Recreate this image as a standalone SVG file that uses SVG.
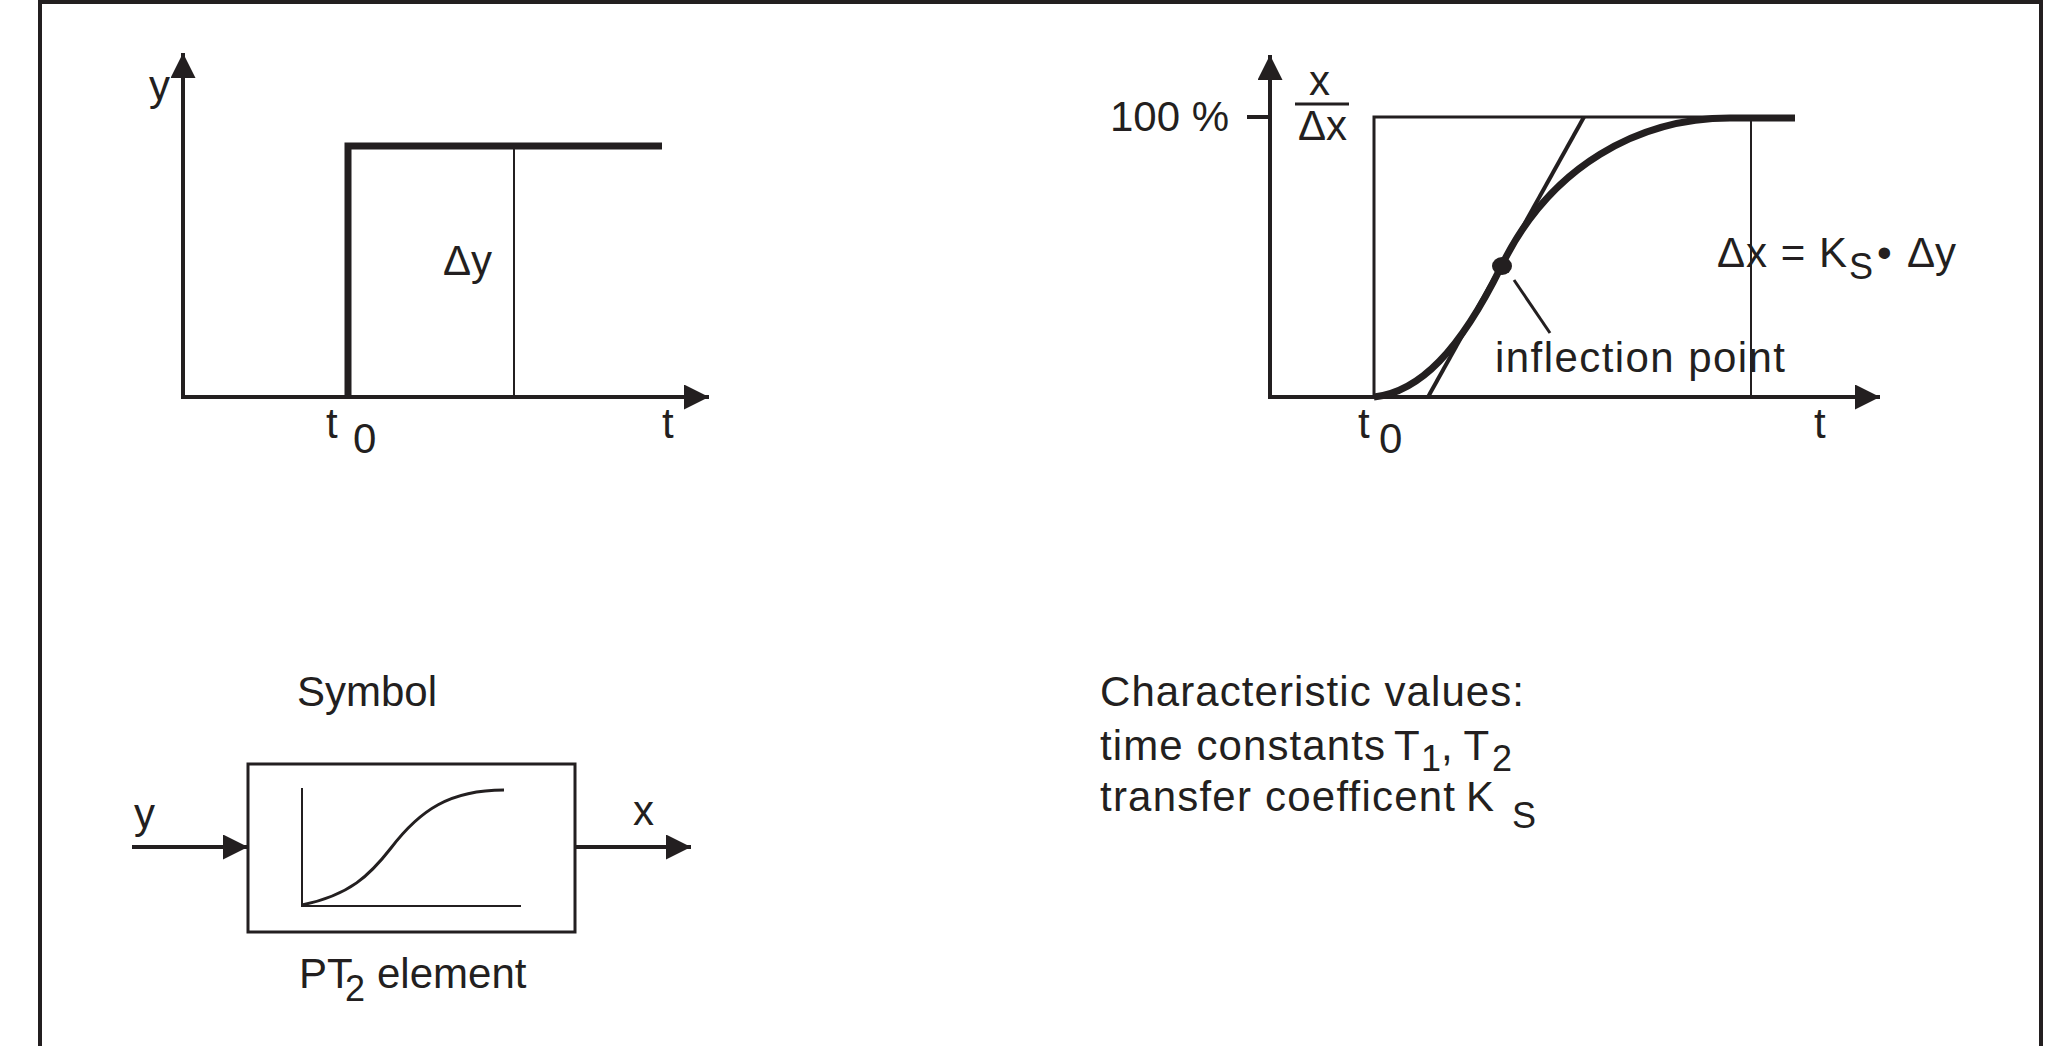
<svg xmlns="http://www.w3.org/2000/svg" width="2045" height="1046" viewBox="0 0 2045 1046">
<style>
text{font-family:"Liberation Sans",Arial,sans-serif;font-size:42px;fill:#231f20}
.s{font-size:36px}
.k{stroke:#231f20;fill:none}
.ax{stroke-width:4}
.th{stroke-width:2}
.bd{stroke-width:7}
</style>
<defs>
<marker id="ah" markerWidth="25" markerHeight="25" refX="25" refY="12.5" orient="auto" markerUnits="userSpaceOnUse">
<path d="M0,0 L25,12.5 L0,25 Z" fill="#231f20"/>
</marker>
</defs>
<rect width="2045" height="1046" fill="#fff"/>
<path class="k" d="M40,1046 V2 H2041 V1046" stroke-width="4"/>
<g id="step-graph">
<line class="k ax" x1="183" y1="397" x2="183" y2="53" marker-end="url(#ah)"/>
<line class="k ax" x1="181" y1="397" x2="709" y2="397" marker-end="url(#ah)"/>
<path class="k bd" d="M348,397 V146 H662"/>
<line class="k th" x1="514" y1="146" x2="514" y2="397"/>
<text x="149" y="100">y</text>
<text x="443" y="275">Δy</text>
<text x="326" y="438">t</text><text x="353" y="453">0</text>
<text x="662" y="438">t</text>
</g>
<g id="response-graph">
<line class="k ax" x1="1270" y1="397" x2="1270" y2="55" marker-end="url(#ah)"/>
<line class="k ax" x1="1268" y1="397" x2="1880" y2="397" marker-end="url(#ah)"/>
<line class="k ax" x1="1247" y1="117" x2="1270" y2="117"/>
<path class="k" d="M1374,397 V117 H1795" stroke-width="3"/>
<line class="k th" x1="1751" y1="117" x2="1751" y2="397"/>
<line class="k" x1="1428" y1="397" x2="1584" y2="117" stroke-width="4"/>
<path class="k bd" d="M1374,397 C1420,392 1460,350 1501,267 C1550,165 1640,118 1730,118 L1795,118"/>
<ellipse cx="1502" cy="266" rx="10" ry="9" fill="#231f20"/>
<line class="k" x1="1514" y1="280" x2="1550" y2="333" stroke-width="3"/>
<text x="1110" y="131">100 %</text>
<text x="1309" y="95">x</text>
<line class="k" x1="1295" y1="104" x2="1349" y2="104" stroke-width="3"/>
<text x="1298" y="140">Δx</text>
<text x="1495" y="372" textLength="290">inflection point</text>
<text x="1717" y="267" textLength="130">Δx = K</text><text class="s" x="1849" y="279">S</text><text x="1877" y="267">•</text><text x="1907" y="267">Δy</text>
<text x="1358" y="438">t</text><text x="1379" y="453">0</text>
<text x="1814" y="438">t</text>
</g>
<g id="pt2-block">
<rect class="k" x="248" y="764" width="327" height="168" stroke-width="3"/>
<path class="k th" d="M302,788 V906 H521"/>
<path class="k" stroke-width="3" d="M302,905 C350,895 370,875 391,848 C420,810 450,790 504,790"/>
<text x="297" y="706">Symbol</text>
<text x="299" y="988">PT</text><text class="s" x="345" y="1001">2</text><text x="377" y="988">element</text>
</g>
<g id="connectors">
<line class="k ax" x1="132" y1="847" x2="248" y2="847" marker-end="url(#ah)"/>
<line class="k ax" x1="575" y1="847" x2="691" y2="847" marker-end="url(#ah)"/>
<text x="134" y="828">y</text>
<text x="633" y="825">x</text>
</g>
<g id="characteristics">
<text x="1100" y="706" textLength="424">Characteristic values:</text>
<text x="1100" y="760" textLength="285">time constants</text><text x="1394" y="760">T</text><text class="s" x="1421" y="771">1</text><text x="1441" y="760">, T</text><text class="s" x="1492" y="771">2</text>
<text x="1100" y="811" textLength="355">transfer coefficent</text><text x="1466" y="811">K</text><text class="s" x="1512" y="828">S</text>
</g>
</svg>
